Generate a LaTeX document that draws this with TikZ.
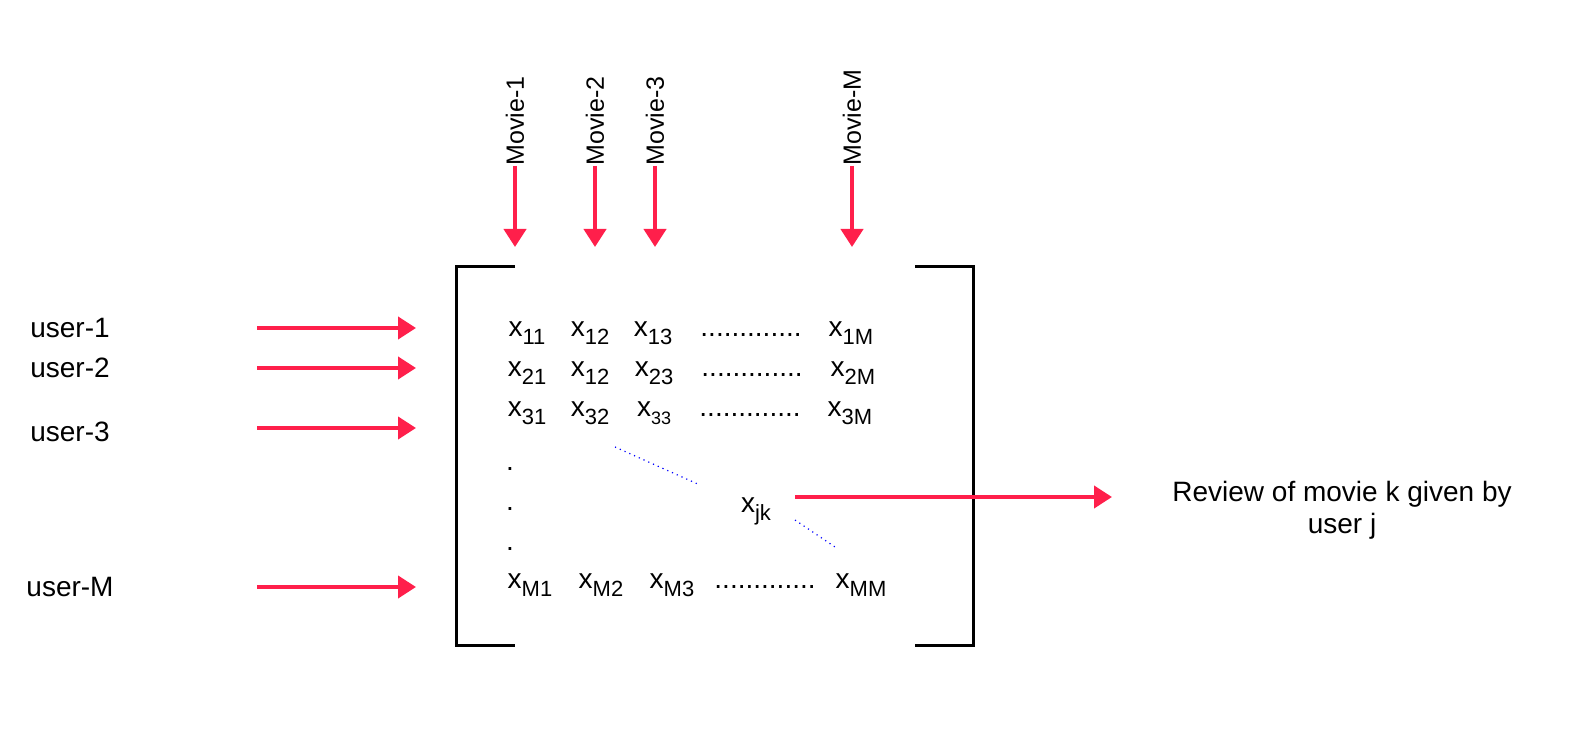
\documentclass[tikz,border=0pt]{standalone}
\usepackage{fontspec}
\setmainfont{Liberation Sans}
\usetikzlibrary{arrows.meta}
\definecolor{ared}{HTML}{FF1F4B}
\newcommand{\sx}[1]{x\raisebox{-0.55ex}{\fontsize{11}{12}\selectfont #1}}
\begin{document}
\begin{tikzpicture}[x=0.5pt,y=-0.5pt,
  lab/.style={font=\fontsize{14}{16}\selectfont, inner sep=0pt},
  mlab/.style={font=\fontsize{12.5}{14}\selectfont, inner sep=0pt},
  ent/.style={font=\fontsize{14}{16}\selectfont, inner sep=0pt, anchor=base},
  rarr/.style={draw=ared, line width=2pt, -{Triangle[length=9pt,width=11pt]}},
  brk/.style={draw=black, line width=1.5pt},
  dotl/.style={draw=blue, dotted, line width=0.6pt}]
\useasboundingbox (0,0) rectangle (1572,732);
% brackets
\draw[brk] (515,267) -- (456,267) -- (456,645) -- (515,645);
\draw[brk] (915,267) -- (973,267) -- (973,645) -- (915,645);
% movies
\foreach \n/\x/\t in {m1/515/Movie-1,m2/595/Movie-2,m3/655/Movie-3,mM/852/Movie-M}{
  \node[mlab, rotate=90, anchor=west] (\n) at (\x,166) {\t};
  \coordinate (\n e) at (\x,247);
  \draw[rarr] (\n.west) -- (\n e);
}
% users
\foreach \n/\y/\t in {u1/328/user-1,u2/368/user-2,u3/432/user-3,uM/587/user-M}{
  \node[lab] (\n) at (70,\y) {\t};
}
\foreach \n/\y in {a1/328,a2/368,a3/428,aM/587}{
  \coordinate (\n s) at (257,\y); \coordinate (\n e) at (416,\y);
  \draw[rarr] (\n s) -- (\n e);
}
% entries
\node[ent] (e11) at (527,336) {\sx{11}};
\node[ent] (e12) at (590,336) {\sx{12}};
\node[ent] (e13) at (653,336) {\sx{13}};
\node[ent] (d1) at (751,336) {.............};
\node[ent] (e1M) at (851,336) {\sx{1M}};
\node[ent] (e21) at (527,376) {\sx{21}};
\node[ent] (e22) at (590,376) {\sx{12}};
\node[ent] (e23) at (654,376) {\sx{23}};
\node[ent] (d2) at (752,376) {.............};
\node[ent] (e2M) at (853,376) {\sx{2M}};
\node[ent] (e31) at (527,416) {\sx{31}};
\node[ent] (e32) at (590,416) {\sx{32}};
\node[ent] (e33) at (654,416) {x\raisebox{-0.55ex}{\fontsize{9}{10}\selectfont 33}};
\node[ent] (d3) at (750,416) {.............};
\node[ent] (e3M) at (850,416) {\sx{3M}};
\node[ent] (v1) at (510,470) {.};
\node[ent] (v2) at (510,510) {.};
\node[ent] (v3) at (510,550) {.};
\node[ent] (eM1) at (530,588) {\sx{M1}};
\node[ent] (eM2) at (601,588) {\sx{M2}};
\node[ent] (eM3) at (672,588) {\sx{M3}};
\node[ent] (dM) at (765,588) {.............};
\node[ent] (eMM) at (861,588) {\sx{MM}};
\node[ent] (ejk) at (756,512) {\sx{jk}};
\coordinate (p1) at (615,447); \coordinate (p2) at (700,485);
\coordinate (p3) at (795,520); \coordinate (p4) at (835,547);
\draw[dotl] (p1) -- (p2);
\draw[dotl] (p3) -- (p4);
% review
\node[lab, align=center] (rev) at (1342,510) {Review of movie k given by\\user j};
\coordinate (rs) at (795,497); \coordinate (re) at (1112,497);
\draw[rarr] (rs) -- (re);
\end{tikzpicture}
\end{document}
